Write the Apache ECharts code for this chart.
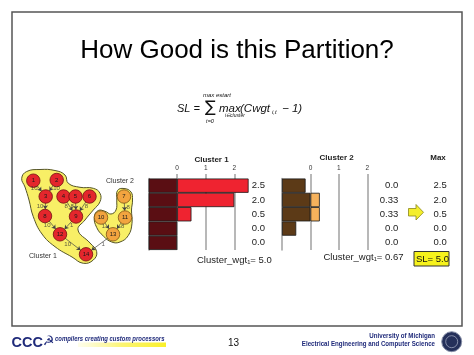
<!DOCTYPE html>
<html><head><meta charset="utf-8">
<script src="https://cdn.jsdelivr.net/npm/echarts@6/dist/echarts.min.js"></script>
<style>html,body{margin:0;padding:0;background:#fff}#c{width:474px;height:355px}</style>
</head><body><div id="c"></div>
<script>
// ---- data ----
const rows = ['t0', 't1', 't2', 't3', 't4'];
const cluster1Cwgt = [3.5, 3.0, 1.5, 1.0, 1.0];
const cluster2Cwgt = [0.83, 1.33, 1.33, 0.5, 0];
const cluster1Excess = ['2.5', '2.0', '0.5', '0.0', '0.0'];
const cluster2Excess = ['0.0', '0.33', '0.33', '0.0', '0.0'];
const maxExcess = ['2.5', '2.0', '0.5', '0.0', '0.0'];
const axisTickLabels = ['0', '1', '2'];
const clusterWeights = ['5.0', '0.67'];
const slValue = '5.0';

// graph (dependence graph) data, in slide pixel space
const nodeIds = [1, 2, 3, 4, 5, 6, 7, 8, 9, 10, 11, 12, 13, 14];
const nodeCluster = [1, 1, 1, 1, 1, 1, 2, 1, 1, 2, 2, 1, 2, 1];
const nodeX = [33.3, 56.7, 45.7, 63.5, 75.5, 89.5, 124, 45, 76, 101, 125, 60, 113, 86];
const nodeY = [180.7, 180, 196.5, 196.5, 196.5, 196.5, 196.5, 216, 216.5, 217.5, 217.5, 234.3, 234.3, 254.3];
const linkSource = [1, 2, 3, 4, 5, 6, 8, 9, 12, 7, 10, 11, 13];
const linkTarget = [3, 3, 8, 9, 9, 9, 12, 12, 14, 11, 13, 13, 14];
const linkWeight = [10, 10, 10, 8, 8, 8, 10, 1, 10, 8, 1, 8, 1];
const linkLabelSide = ['left', 'right', 'left', 'left', 'left', 'right', 'left', 'right', 'left', 'right', 'left', 'right', 'right'];
const cluster1Outline = [[21.7,178.3],[26.7,171.5],[40,169.5],[55,170.5],[65,175],[68.3,183.3],[80,187.3],[93.3,188.3],[100,193.3],[100,201.7],[93.3,210],[85,220],[78,230],[90,243],[96.7,251.7],[93.3,260],[83.3,263.3],[72,257],[55,246.7],[42,234],[33.3,216.7],[29,200],[25,187]];
const cluster2Outline = [[117.5,190.5],[124,188.5],[131,192],[132.5,200],[131.5,210],[132,223.3],[128.3,235.5],[120,242],[111.7,242],[103.3,236],[96.7,227.5],[94.3,216.7],[98.3,210.5],[105,211.3],[111,214],[116,210],[116.8,200]];

// ---- chart ----
const chart = echarts.init(document.getElementById('c'), null, {renderer: 'canvas'});
const FONT = 'Liberation Sans, Arial, Helvetica, sans-serif';
const NAVY = '#1f2a7a';

const tickFmt = v => (v >= 1 && v <= 3) ? axisTickLabels[Math.round(v) - 1] : '';
const linesAxis = gi => ({
  gridIndex: gi, type: 'value', min: 0, max: 3, interval: 1, position: 'top',
  axisLine: {show: false}, axisTick: {show: false},
  axisLabel: {formatter: tickFmt, fontSize: 6.5, color: '#333', margin: 2, fontFamily: FONT},
  splitLine: {show: true, showMinLine: false, lineStyle: {color: '#a0a0a0', width: 1.5}}
});
const rowAxis = gi => ({
  gridIndex: gi, type: 'category', data: rows, inverse: true,
  axisLine: {show: true, lineStyle: {color: '#a0a0a0', width: 1.5}},
  axisTick: {show: false}, axisLabel: {show: false}
});
const labelAxis = (gi, data, margin) => ({
  gridIndex: gi, type: 'category', data: data, inverse: true, position: 'right',
  axisLine: {show: false}, axisTick: {show: false},
  axisLabel: {interval: 0, align: 'right', margin: margin, fontSize: 9.5, color: '#222',
    fontFamily: FONT, padding: [3, 0, 0, 0]}
});
const barSeries = (xi, yi, stack, data, color) => ({
  type: 'bar', xAxisIndex: xi, yAxisIndex: yi, stack: stack, data: data,
  barCategoryGap: '0%', barGap: '0%', z: 3,
  itemStyle: {color: color, borderColor: '#1a1a1a', borderWidth: 0.8}
});
const low = arr => arr.map(v => v > 0 ? Math.min(v, 1) : null);
const high = arr => arr.map(v => v > 1 ? +(v - 1).toFixed(2) : null);

const nodes = nodeIds.map((id, i) => ({
  name: String(id), value: [nodeX[i], nodeY[i]],
  itemStyle: nodeCluster[i] === 1
    ? {color: '#e4262c', borderColor: '#6e1010', borderWidth: 0.8}
    : {color: '#f2a43f', borderColor: '#7a5014', borderWidth: 0.8}
}));
const links = linkSource.map((s, i) => ({source: String(s), target: String(linkTarget[i])}));
const edgeLabels = linkSource.map((s, i) => {
  const a = nodeIds.indexOf(s), b = nodeIds.indexOf(linkTarget[i]);
  return {
    name: String(linkWeight[i]),
    value: [(nodeX[a] + nodeX[b]) / 2, (nodeY[a] + nodeY[b]) / 2],
    label: {position: linkLabelSide[i]}
  };
});
const outlines = [cluster1Outline, cluster2Outline];

const txt = (x, y, text, o, sx) => ({
  type: 'text', x: x, y: y, z: 10, scaleX: sx || 1,
  style: Object.assign({text: text, fontFamily: FONT, fill: '#111', fontSize: 11,
    align: 'left', verticalAlign: 'middle'}, o || {})
});

const option = {
  animation: false,
  backgroundColor: '#ffffff',
  grid: [
    {left: 148.6, top: 174, width: 85.7, height: 76},
    {left: 148.6, top: 178.5, width: 100, height: 71.5},
    {left: 282, top: 174, width: 85.3, height: 76},
    {left: 282, top: 178.5, width: 85.3, height: 71.5},
    {left: 0, top: 0, width: 474, height: 355}
  ],
  xAxis: [
    linesAxis(0),
    {gridIndex: 1, type: 'value', min: 0, max: 3.5, show: false},
    linesAxis(2),
    {gridIndex: 3, type: 'value', min: 0, max: 3, show: false},
    {gridIndex: 4, type: 'value', min: 0, max: 474, show: false}
  ],
  yAxis: [
    {gridIndex: 0, type: 'value', show: false},
    rowAxis(1),
    labelAxis(1, cluster1Excess, 16.4),
    {gridIndex: 2, type: 'value', show: false},
    rowAxis(3),
    labelAxis(3, cluster2Excess, 31),
    labelAxis(3, maxExcess, 79.4),
    {gridIndex: 4, type: 'value', min: 0, max: 355, inverse: true, show: false}
  ],
  series: [
    barSeries(1, 1, 'c1', low(cluster1Cwgt), '#5a0e13'),
    barSeries(1, 1, 'c1', high(cluster1Cwgt), '#ef2330'),
    barSeries(3, 4, 'c2', low(cluster2Cwgt), '#5c3a17'),
    barSeries(3, 4, 'c2', high(cluster2Cwgt), '#f6b25c'),
    {
      type: 'custom', coordinateSystem: 'cartesian2d', xAxisIndex: 4, yAxisIndex: 7, z: 1,
      data: outlines.map(o => [o[0][0], o[0][1]]),
      renderItem: (params, api) => ({
        type: 'polygon',
        shape: {points: outlines[params.dataIndex].map(p => api.coord(p)), smooth: 0.45},
        style: {fill: '#f8ef66', stroke: '#55552a', lineWidth: 1}
      })
    },
    {
      type: 'graph', coordinateSystem: 'cartesian2d', xAxisIndex: 4, yAxisIndex: 7, z: 4,
      layout: 'none', roam: false, symbol: 'circle', symbolSize: 13.5,
      edgeSymbol: ['none', 'arrow'], edgeSymbolSize: [0, 4],
      data: nodes, links: links,
      label: {show: true, position: 'inside', fontSize: 6, color: '#1a1a1a', fontFamily: FONT},
      lineStyle: {color: '#444', width: 0.7, opacity: 1}
    },
    {
      type: 'scatter', xAxisIndex: 4, yAxisIndex: 7, z: 5, symbolSize: 0,
      data: edgeLabels, silent: true,
      label: {show: true, formatter: '{b}', fontSize: 6, color: '#333', distance: 2, fontFamily: FONT}
    }
  ],
  graphic: [
    {type: 'rect', z: 0, shape: {x: 12, y: 12, width: 450, height: 314},
      style: {fill: 'none', stroke: '#555', lineWidth: 1.5}},
    txt(237, 51, 'How Good is this Partition?', {fontSize: 26, align: 'center', fill: '#000'}),
    // formula
    txt(177, 108.5, 'SL =', {fontSize: 11, fontStyle: 'italic'}),
    txt(210.5, 107.5, '\u2211', {fontSize: 16, align: 'center', fontFamily: 'DejaVu Sans'}),
    txt(217, 95.5, 'max estart', {fontSize: 6, align: 'center', fontStyle: 'italic'}),
    txt(210, 121, 't=0', {fontSize: 5.5, align: 'center', fontStyle: 'italic'}),
    txt(219, 108.5, 'max', {fontSize: 11.5, fontStyle: 'italic'}),
    txt(225, 115.5, 'i\u2208cluster', {fontSize: 5, fontStyle: 'italic'}),
    txt(240, 108.5, '(Cwgt', {fontSize: 11.5, fontStyle: 'italic'}),
    txt(272, 112.5, 'i,t', {fontSize: 6, fontStyle: 'italic'}),
    txt(282, 108.5, '\u2212 1)', {fontSize: 11.5, fontStyle: 'italic'}),
    // headers
    txt(211.5, 159.5, 'Cluster 1', {fontSize: 8, fontWeight: 'bold', align: 'center', fill: '#222'}),
    txt(336.7, 157.5, 'Cluster 2', {fontSize: 8, fontWeight: 'bold', align: 'center', fill: '#222'}),
    txt(438, 158, 'Max', {fontSize: 8, fontWeight: 'bold', align: 'center', fill: '#222'}),
    txt(197, 260, 'Cluster_wgt\u2081= ' + clusterWeights[0], {fontSize: 9.5, fill: '#222'}),
    txt(323.5, 257.5, 'Cluster_wgt\u2081= ' + clusterWeights[1], {fontSize: 9.5, fill: '#222'}),
    {type: 'rect', z: 9, shape: {x: 414, y: 251.5, width: 35, height: 14.5},
      style: {fill: '#f6f21c', stroke: '#333', lineWidth: 1}},
    txt(416, 259, 'SL= ' + slValue, {fontSize: 9.5, fill: '#111'}),
    {type: 'polygon', z: 9, shape: {points: [[408.5, 208.5], [416, 208.5], [416, 204.5], [423.5, 212.3], [416, 220], [416, 216], [408.5, 216]]},
      style: {fill: '#f4ee2c', stroke: '#8a861a', lineWidth: 0.8}},
    // graph cluster labels
    txt(120, 181, 'Cluster 2', {fontSize: 7, align: 'center', fill: '#333'}),
    txt(43, 256.5, 'Cluster 1', {fontSize: 7, align: 'center', fill: '#333'}),
    // footer
    txt(11.5, 342.5, 'CCC', {fontSize: 14.5, fontWeight: 'bold', fill: NAVY}),
    txt(48.5, 342, '\u262D', {fontSize: 13, align: 'center', fill: NAVY, fontFamily: 'DejaVu Sans'}),
    {type: 'rect', z: 1, shape: {x: 78, y: 342.5, width: 88, height: 4.5},
      style: {fill: new echarts.graphic.LinearGradient(0, 0, 1, 0, [
        {offset: 0, color: 'rgba(250,245,120,0.15)'}, {offset: 0.5, color: 'rgba(250,242,80,0.8)'}, {offset: 1, color: 'rgba(250,240,40,1)'}])}},
    txt(55, 339, 'compilers creating custom processors', {fontSize: 7, fontWeight: 'bold', fontStyle: 'italic', fill: NAVY}, 0.85),
    txt(233.5, 343.5, '13', {fontSize: 10, align: 'center', fill: '#111'}),
    txt(435, 336, 'University of Michigan', {fontSize: 7, fontWeight: 'bold', align: 'right', fill: NAVY}, 0.88),
    txt(435, 344, 'Electrical Engineering and Computer Science', {fontSize: 7, fontWeight: 'bold', align: 'right', fill: NAVY}, 0.88),
    {type: 'circle', z: 9, shape: {cx: 451.7, cy: 341.7, r: 10}, style: {fill: '#25305a', stroke: '#8890a8', lineWidth: 1}},
    {type: 'circle', z: 10, shape: {cx: 451.7, cy: 341.7, r: 6}, style: {fill: 'none', stroke: '#9aa2bb', lineWidth: 0.8}}
  ]
};
chart.setOption(option);
</script>
</body></html>
